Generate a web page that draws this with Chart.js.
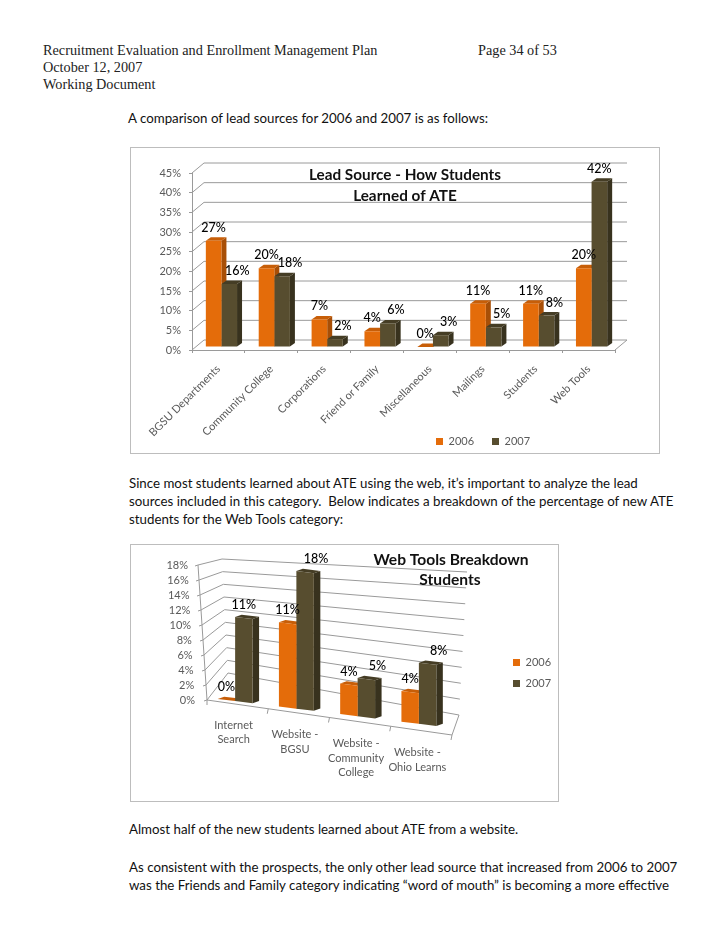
<!DOCTYPE html>
<html>
<head>
<meta charset="utf-8">
<script src="https://cdn.jsdelivr.net/npm/chart.js@4"></script>
<style>
  html, body { margin: 0; padding: 0; background: #fff; }
  .t { position: absolute; white-space: pre; color: #000; }
  .serif { font-family: "Liberation Serif", serif; font-size: 14.25px; color: #222; }
  .body { font-family: Lato, sans-serif; font-size: 13.3px; left: 129px; color: #111; }
  .box { position: absolute; border: 1px solid #bdbdbd; box-sizing: border-box; background: #fff; }
  canvas { position: absolute; left: -1px; top: -1px; }
</style>
</head>
<body>
<div class="t serif" style="left:43px;top:42px">Recruitment Evaluation and Enrollment Management Plan</div>
<div class="t serif" style="left:478px;top:42px">Page 34 of 53</div>
<div class="t serif" style="left:43px;top:59px">October 12, 2007</div>
<div class="t serif" style="left:43px;top:76px">Working Document</div>
<div class="t body" style="left:128px;top:110px">A comparison of lead sources for 2006 and 2007 is as follows:</div>

<div class="box" style="left:130px;top:147px;width:530px;height:307px"><canvas id="leadChart" width="530" height="307"></canvas></div>

<div class="t body" style="top:475px">Since most students learned about ATE using the web, it’s important to analyze the lead</div>
<div class="t body" style="top:493px">sources included in this category.  Below indicates a breakdown of the percentage of new ATE</div>
<div class="t body" style="top:511px">students for the Web Tools category:</div>

<div class="box" style="left:130px;top:544px;width:429px;height:258px"><canvas id="webChart" width="429" height="258"></canvas></div>

<div class="t body" style="top:821px">Almost half of the new students learned about ATE from a website.</div>
<div class="t body" style="top:859px">As consistent with the prospects, the only other lead source that increased from 2006 to 2007</div>
<div class="t body" style="top:877px">was the Friends and Family category indicating “word of mouth” is becoming a more effective</div>

<script>
// Datos de la primera grafica
const leadCategories = ['BGSU Departments', 'Community College', 'Corporations', 'Friend or Family', 'Miscellaneous', 'Mailings', 'Students', 'Web Tools'];
const lead2006 = [27, 20, 7, 4, 0, 11, 11, 20];
const lead2007 = [16, 18, 2, 6, 3, 5, 8, 42];

// Datos de la segunda grafica
const webCategories = [['Internet', 'Search'], ['Website -', 'BGSU'], ['Website -', 'Community', 'College'], ['Website -', 'Ohio Learns']];
const web2006 = [0, 11, 4, 4];
const web2007 = [11, 18, 5, 8];

const seriesNames = ['2006', '2007'];
const fronts = ['#E46C0A', '#574D2F'];
const tops = ['#C75E08', '#453D25'];
const sides = ['#A84F07', '#38321E'];
const gridColor = '#9a9a9a';
const textColor = '#5a5a5a';

function poly(ctx, pts, color) {
    ctx.fillStyle = color;
    ctx.beginPath();
    pts.forEach((p, i) => i ? ctx.lineTo(p[0], p[1]) : ctx.moveTo(p[0], p[1]));
    ctx.closePath();
    ctx.fill();
}

function line(ctx, a, b) {
    ctx.beginPath();
    ctx.moveTo(a[0], a[1]);
    ctx.lineTo(b[0], b[1]);
    ctx.stroke();
}

function mix(a, b, t) {
    return [a[0] + (b[0] - a[0]) * t, a[1] + (b[1] - a[1]) * t];
}

// Matriz que lleva la cara frontal de las barras a su sitio dentro de la caja
function barMatrix(chart, o) {
    const base = chart.scales.y.getPixelForValue(0);
    return [o.shear, o.stretch, base * (1 - o.stretch) - o.shear * o.shearFrom + o.shiftY, o.shiftX];
}

const box3d = {
    id: 'box3d',
    beforeDraw(chart, args, o) {
        // Las etiquetas siguen la inclinacion de los ejes
        if (chart.$tilted || !o.tilt) return;
        chart.$tilted = true;
        const a = chart.chartArea;
        chart.scales.y.getLabelItems().forEach(it => {
            it.options.translation[0] -= o.tilt.label * (a.bottom - it.options.translation[1]) / a.height;
        });
        chart.scales.x.getLabelItems().forEach(it => {
            it.options.translation[1] += o.tilt.floor * (it.options.translation[0] - a.left);
            it.options.translation[0] += o.tilt.labelShift;
        });
    },
    beforeDatasetsDraw(chart, args, o) {
        const ctx = chart.ctx, a = chart.chartArea, y = chart.scales.y;
        const c = o.corners;
        const pt = (p) => [p[0] + (p[2] ? a.right : a.left), p[1] + (p[3] ? a.top : a.bottom)];
        const fl0 = pt(c.frontLeft0), fl1 = pt(c.frontLeft1), bl0 = pt(c.backLeft0), bl1 = pt(c.backLeft1);
        const br0 = pt(c.backRight0), br1 = pt(c.backRight1), fr0 = pt(c.frontRight0);

        ctx.save();
        ctx.strokeStyle = gridColor;
        ctx.lineWidth = 1;
        y.ticks.forEach((tick, i) => {
            const f = (a.bottom - y.getPixelForTick(i)) / a.height;
            line(ctx, mix(fl0, fl1, f), mix(bl0, bl1, f));
            line(ctx, mix(bl0, bl1, f), mix(br0, br1, f));
            if (o.tilt) line(ctx, mix(fl0, fl1, f), [mix(fl0, fl1, f)[0] - 3, mix(fl0, fl1, f)[1] + 1]);
        });
        line(ctx, fr0, br0);
        if (o.tilt) {
            // ejes inclinados de la grafica en perspectiva
            line(ctx, fl0, fl1);
            line(ctx, fl0, fr0);
            const x = chart.scales.x;
            const step = x.getPixelForTick(1) - x.getPixelForTick(0);
            x.ticks.forEach((tick, i) => {
                const p = mix(fl0, fr0, (x.getPixelForTick(i) + step / 2 - a.left) / a.width);
                line(ctx, p, [p[0] - 1, p[1] + 5]);
            });
            line(ctx, fl0, [fl0[0], fl0[1] + 5]);
        }
        ctx.restore();

        // caras de arriba y de lado
        const m = barMatrix(chart, o);
        ctx.save();
        ctx.transform(1, m[0], 0, m[1], m[3], m[2]);
        chart.data.datasets.forEach((ds, d) => {
            chart.getDatasetMeta(d).data.forEach(bar => {
                const L = bar.x - bar.width / 2, R = bar.x + bar.width / 2, T = bar.y, B = bar.base;
                const dx = o.depthX, dy = o.depthY;
                poly(ctx, [[R, T], [R + dx, T + dy], [R + dx, B + dy], [R, B]], sides[d]);
                poly(ctx, [[L, T], [L + dx, T + dy], [R + dx, T + dy], [R, T]], tops[d]);
            });
        });
        ctx.restore();

        // la libreria pinta la cara frontal con esta misma matriz
        ctx.save();
        ctx.transform(1, m[0], 0, m[1], m[3], m[2]);
    },
    afterDatasetsDraw(chart, args, o) {
        const ctx = chart.ctx;
        ctx.restore();

        const m = barMatrix(chart, o);
        ctx.save();
        ctx.fillStyle = '#000';
        ctx.textAlign = 'center';
        ctx.textBaseline = 'middle';
        ctx.font = o.labelFont;
        chart.data.datasets.forEach((ds, d) => {
            chart.getDatasetMeta(d).data.forEach((bar, i) => {
                const v = ds.data[i];
                const px = bar.x + m[3];
                const py = m[0] * bar.x + m[1] * bar.y + m[2];
                const side = d === 1 && !o.noShift(v, i) ? o.labelShift : 0;
                ctx.fillText(v + '%', px + side, py - o.labelRise);
            });
        });
        ctx.fillStyle = '#111';
        ctx.font = o.titleFont;
        o.title.forEach(row => ctx.fillText(row.text, row.x, row.y));
        ctx.restore();
    },
    afterLayout(chart, args, o) {
        // coloca la leyenda donde esta en el original
        const lg = chart.legend, p = o.legendAt;
        lg.right = p.x + lg.width;
        lg.left = p.x;
        lg.top = p.y;
        lg.bottom = p.y + lg.height;
        // las etiquetas giradas no deben recortarse en el borde de la escala
        chart.scales.x.bottom = chart.height;
    }
};

function makeChart(id, categories, first, second, extra) {
    const ctx = document.getElementById(id).getContext('2d');
    return new Chart(ctx, {
        type: 'bar',
        data: {
            labels: categories,
            datasets: [
                { label: seriesNames[0], data: first, backgroundColor: fronts[0], categoryPercentage: extra.groupWidth, barPercentage: 1, clip: false },
                { label: seriesNames[1], data: second, backgroundColor: fronts[1], categoryPercentage: extra.groupWidth, barPercentage: 1, clip: false }
            ]
        },
        options: {
            responsive: false,
            animation: false,
            devicePixelRatio: 1,
            layout: { padding: extra.padding },
            plugins: {
                tooltip: { enabled: false },
                legend: {
                    position: extra.legendPosition,
                    align: 'start',
                    labels: { boxWidth: 7, boxHeight: 7, padding: extra.legendGap, color: textColor, font: { family: 'Lato', size: 11 } }
                },
                box3d: extra.box
            },
            scales: {
                x: {
                    offset: true,
                    grid: { display: !extra.box.tilt, offset: true, drawOnChartArea: false, tickLength: 3, color: gridColor },
                    border: { display: !extra.box.tilt, color: gridColor },
                    ticks: Object.assign({ color: textColor, autoSkip: false, font: { family: 'Lato', size: 11, lineHeight: 1.3 } }, extra.xTicks),
                    afterFit(scale) { scale.height = extra.xHeight; }
                },
                y: {
                    min: 0,
                    max: extra.max,
                    grid: { display: !extra.box.tilt, drawOnChartArea: false, tickLength: 3, color: gridColor },
                    border: { display: !extra.box.tilt, color: gridColor },
                    ticks: { stepSize: extra.step, autoSkip: false, padding: extra.yPadding, color: textColor, font: { family: 'Lato', size: 11 }, callback: v => v + '%' },
                    afterFit(scale) { scale.width = extra.yWidth; }
                }
            }
        },
        plugins: [box3d]
    });
}

makeChart('leadChart', leadCategories, lead2006, lead2007, {
    groupWidth: 0.59,
    padding: { top: 26, right: 45, left: 0, bottom: 0 },
    legendPosition: 'bottom',
    legendGap: 18,
    xHeight: 65,
    yWidth: 62,
    yPadding: 8,
    max: 45,
    step: 5,
    xTicks: { minRotation: 45, maxRotation: 45, padding: 9 },
    box: {
        corners: {
            frontLeft0: [0, 0, 0, 0], frontLeft1: [0, 0, 0, 1],
            backLeft0: [12, -10, 0, 0], backLeft1: [12, -10, 0, 1],
            backRight0: [12, -10, 1, 0], backRight1: [12, -10, 1, 1],
            frontRight0: [0, 0, 1, 0]
        },
        shear: 0, stretch: 1, shearFrom: 0, shiftX: 3, shiftY: -3,
        depthX: 5, depthY: -3.5,
        labelFont: '500 12.5px Lato', labelRise: 13, labelShift: 8,
        noShift: v => v > 40,
        titleFont: 'bold 15.3px Lato',
        title: [{ text: 'Lead Source - How Students', x: 275, y: 28 }, { text: 'Learned of ATE', x: 275, y: 49 }],
        legendAt: { x: 288, y: 271 }
    }
});

makeChart('webChart', webCategories, web2006, web2007, {
    groupWidth: 0.57,
    padding: { top: 21, right: 107, left: 0, bottom: 0 },
    legendPosition: 'chartArea',
    legendGap: 10,
    xHeight: 102,
    yWidth: 77,
    yPadding: 9,
    max: 18,
    step: 2,
    xTicks: { maxRotation: 0, padding: 11 },
    box: {
        corners: {
            frontLeft0: [0, 0, 0, 0], frontLeft1: [-9, 0, 0, 1],
            backLeft0: [21, -27, 0, 0], backLeft1: [15, -6, 0, 1],
            backRight0: [7, 15, 1, 0], backRight1: [15, 7, 1, 1],
            frontRight0: [0, 35, 1, 0]
        },
        shear: 0.124, stretch: 1.02, shearFrom: 107, shiftX: -2.5, shiftY: 1,
        depthX: 6.5, depthY: -3,
        labelFont: '500 12.5px Lato', labelRise: 13, labelShift: 11,
        noShift: (v, i) => i === 0,
        titleFont: 'bold 15.6px Lato',
        title: [{ text: 'Web Tools Breakdown', x: 321, y: 16 }, { text: 'Students', x: 320, y: 36 }],
        legendAt: { x: 373, y: 103 },
        tilt: { label: 7, floor: 0.147, labelShift: -4 }
    }
});
</script>
</body>
</html>
